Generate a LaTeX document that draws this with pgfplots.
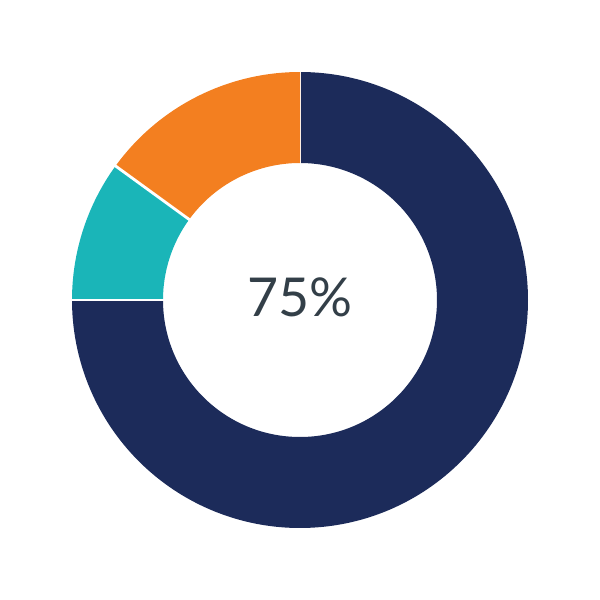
\documentclass[border=0pt]{standalone}
\usepackage{pgfplots}
\pgfplotsset{compat=1.18}
\usepackage{fontspec}
\setmainfont{Lato}
\definecolor{navy}{HTML}{1C2B5A}
\definecolor{tealc}{HTML}{1AB5B8}
\definecolor{orangec}{HTML}{F37F20}
\definecolor{txt}{HTML}{333F48}
\begin{document}
\begin{tikzpicture}
\begin{axis}[
  x=1cm, y=1cm,
  xmin=0, xmax=12, ymin=0, ymax=12,
  hide axis, clip=false, scale only axis,
]
\addplot[draw=none, mark=none] coordinates {(0,0) (12,12)};
\pgfplotsextra{
  \xdef\start{90}
  \begin{scope}[shift={(axis cs:6,6)}]
  \foreach \v/\c in {75/navy,10/tealc,15/orangec}{
    \pgfmathsetmacro\e{\start-\v*3.6}
    \fill[\c] (\start:4.56) arc[start angle=\start, end angle=\e, radius=4.56cm]
      -- (\e:2.74) arc[start angle=\e, end angle=\start, radius=2.74cm] -- cycle;
    \draw[white, line width=1.6pt] (\start:2.70) -- (\start:4.60);
    \xdef\start{\e}
  }
  \end{scope}
  \node[text=txt, font=\fontsize{30.5}{34}\selectfont] at (axis cs:6,6.05) {75\%};
}
\end{axis}
\end{tikzpicture}
\end{document}
